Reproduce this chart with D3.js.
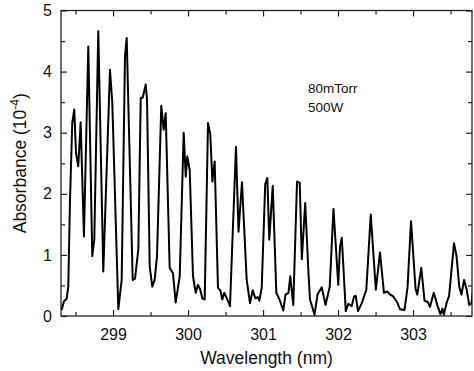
<!DOCTYPE html>
<html>
<head>
<meta charset="utf-8">
<script src="https://cdn.jsdelivr.net/npm/d3@7"></script>
<style>
  html, body { margin: 0; padding: 0; background: #fff; }
  svg text { font-family: "Liberation Sans", Arial, Helvetica, sans-serif; fill: #111; }
</style>
</head>
<body>
<div id="grafico"></div>
<script>
// spectrum
const wavelength = [
  298.315, 298.345, 298.381, 298.403, 298.426, 298.456, 298.483, 298.506, 298.536, 298.568,
  298.612, 298.670, 298.723, 298.750, 298.803, 298.870, 298.959, 298.990, 299.070, 299.115,
  299.159, 299.182, 299.262, 299.293, 299.337, 299.369, 299.395, 299.435, 299.453, 299.489,
  299.523, 299.555, 299.586, 299.643, 299.675, 299.702, 299.755, 299.799, 299.835, 299.889,
  299.942, 299.969, 299.990, 300.022, 300.066, 300.102, 300.133, 300.163, 300.190, 300.222,
  300.266, 300.297, 300.324, 300.355, 300.399, 300.430, 300.457, 300.483, 300.513, 300.559,
  300.639, 300.673, 300.719, 300.782, 300.826, 300.862, 300.897, 300.929, 300.950, 300.982,
  301.029, 301.057, 301.083, 301.129, 301.177, 301.219, 301.270, 301.299, 301.339, 301.363,
  301.403, 301.453, 301.489, 301.517, 301.562, 301.606, 301.626, 301.653, 301.686, 301.726,
  301.782, 301.833, 301.889, 301.939, 302.003, 302.026, 302.050, 302.103, 302.137, 302.182,
  302.213, 302.236, 302.266, 302.316, 302.377, 302.436, 302.504, 302.559, 302.612, 302.656,
  302.696, 302.736, 302.786, 302.826, 302.886, 302.926, 302.973, 303.033, 303.057, 303.110,
  303.153, 303.197, 303.226, 303.276, 303.326, 303.364, 303.393, 303.410, 303.453, 303.480,
  303.546, 303.580, 303.616, 303.646, 303.680, 303.716, 303.749, 303.780, 303.800
];
const absorbance = [
  0.10, 0.24, 0.28, 0.48, 1.90, 3.16, 3.38, 2.67, 2.45, 3.17,
  1.30, 4.41, 0.98, 1.25, 4.66, 0.73, 4.03, 3.49, 0.11, 0.59,
  4.25, 4.55, 0.59, 0.61, 1.09, 3.57, 3.57, 3.79, 3.54, 0.81,
  0.48, 0.59, 0.98, 3.44, 3.05, 3.32, 0.79, 0.70, 0.22, 0.65,
  3.00, 2.28, 2.61, 2.39, 0.65, 0.38, 0.51, 0.43, 0.29, 0.27,
  3.16, 2.97, 2.20, 2.53, 0.46, 0.42, 0.27, 0.38, 0.30, 0.16,
  2.77, 1.38, 2.19, 0.59, 0.21, 0.42, 0.29, 0.31, 0.25, 0.46,
  2.16, 2.26, 1.25, 2.13, 0.38, 0.27, 0.09, 0.35, 0.38, 0.65,
  0.18, 2.20, 2.18, 0.93, 1.85, 0.70, 0.27, 0.16, 0.02, 0.35,
  0.47, 0.18, 0.48, 1.75, 0.51, 1.13, 1.28, 0.08, 0.20, 0.16,
  0.32, 0.33, 0.08, 0.21, 0.43, 1.66, 0.43, 1.04, 0.38, 0.40,
  0.35, 0.32, 0.23, 0.11, 0.10, 0.46, 1.55, 0.45, 0.35, 0.79,
  0.25, 0.23, 0.15, 0.38, 0.17, 0.03, 0.12, 0.02, 0.24, 0.32,
  1.19, 0.98, 0.48, 0.35, 0.59, 0.43, 0.18, 0.21, 0.43
];
const xTicks = [299, 300, 301, 302, 303];
const xMinorTicks = [298.5, 299.5, 300.5, 301.5, 302.5, 303.5];
const yTicks = [0, 1, 2, 3, 4, 5];
const yMinorTicks = [0.5, 1.5, 2.5, 3.5, 4.5];
const etiquetas = ["80mTorr", "500W"];

const totalW = 474, totalH = 371;
const margin = { top: 10.5, right: 2, bottom: 55, left: 61 };
const width = totalW - margin.left - margin.right;
const height = totalH - margin.top - margin.bottom;

const svg = d3.select("#grafico")
  .append("svg")
  .attr("width", totalW)
  .attr("height", totalH)
  .append("g")
  .attr("transform", `translate(${margin.left}, ${margin.top})`);

const x = d3.scaleLinear().domain([298.306, 303.786]).range([0, width]);
const y = d3.scaleLinear().domain([0, 5]).range([height, 0]);

svg.append("clipPath").attr("id", "clip")
  .append("rect").attr("width", width).attr("height", height);

// ejes: ticks hacia adentro en los cuatro lados
function estilo(g) {
  g.select(".domain").remove();
  g.selectAll("line").attr("stroke", "#222").attr("stroke-width", 1.2);
  g.selectAll("text").attr("font-size", "16px").attr("fill", "#111")
    .style("font-family", "'Liberation Sans', Arial, sans-serif");
}

svg.append("g")
  .attr("transform", `translate(0, ${height})`)
  .call(d3.axisBottom(x).tickValues(xTicks).tickSize(-6).tickPadding(13).tickFormat(d3.format("d")))
  .call(estilo);
svg.append("g")
  .attr("transform", `translate(0, ${height})`)
  .call(d3.axisBottom(x).tickValues(xMinorTicks).tickSize(-4).tickFormat(""))
  .call(estilo);
svg.append("g")
  .call(d3.axisTop(x).tickValues(xTicks).tickSize(-6).tickFormat(""))
  .call(estilo);
svg.append("g")
  .call(d3.axisTop(x).tickValues(xMinorTicks).tickSize(-4).tickFormat(""))
  .call(estilo);

svg.append("g")
  .call(d3.axisLeft(y).tickValues(yTicks).tickSize(-6).tickPadding(9).tickFormat(d3.format("d")))
  .call(estilo);
svg.append("g")
  .call(d3.axisLeft(y).tickValues(yMinorTicks).tickSize(-4).tickFormat(""))
  .call(estilo);
svg.append("g")
  .attr("transform", `translate(${width}, 0)`)
  .call(d3.axisRight(y).tickValues(yTicks).tickSize(-6).tickFormat(""))
  .call(estilo);
svg.append("g")
  .attr("transform", `translate(${width}, 0)`)
  .call(d3.axisRight(y).tickValues(yMinorTicks).tickSize(-4).tickFormat(""))
  .call(estilo);

// marco
svg.append("rect")
  .attr("width", width)
  .attr("height", height)
  .attr("fill", "none")
  .attr("stroke", "#222")
  .attr("stroke-width", 1.3);

const puntos = wavelength.map((w, i) => ({ w: w, a: absorbance[i] }));

const linea = d3.line()
  .x(d => x(d.w))
  .y(d => y(d.a));

svg.append("path")
  .datum(puntos)
  .attr("clip-path", "url(#clip)")
  .attr("fill", "none")
  .attr("stroke", "#000")
  .attr("stroke-width", 2)
  .attr("stroke-linejoin", "round")
  .attr("d", linea);

// texto de condiciones
etiquetas.forEach((t, i) => {
  svg.append("text")
    .attr("x", 308 - margin.left)
    .attr("y", 93 - margin.top + i * 19)
    .attr("font-size", "13.5px")
    .text(t);
});

// titulos de ejes
svg.append("text")
  .attr("x", width / 2)
  .attr("y", height + 48)
  .attr("text-anchor", "middle")
  .attr("font-size", "17.5px")
  .text("Wavelength (nm)");

const yLabel = svg.append("text")
  .attr("transform", `translate(${26 - margin.left}, ${height / 2}) rotate(-90)`)
  .attr("text-anchor", "middle")
  .attr("font-size", "17.5px");
yLabel.append("tspan").text("Absorbance (10");
yLabel.append("tspan").attr("font-size", "12px").attr("dy", "-7").text("-4");
yLabel.append("tspan").attr("dy", "7").text(")");
</script>
</body>
</html>
